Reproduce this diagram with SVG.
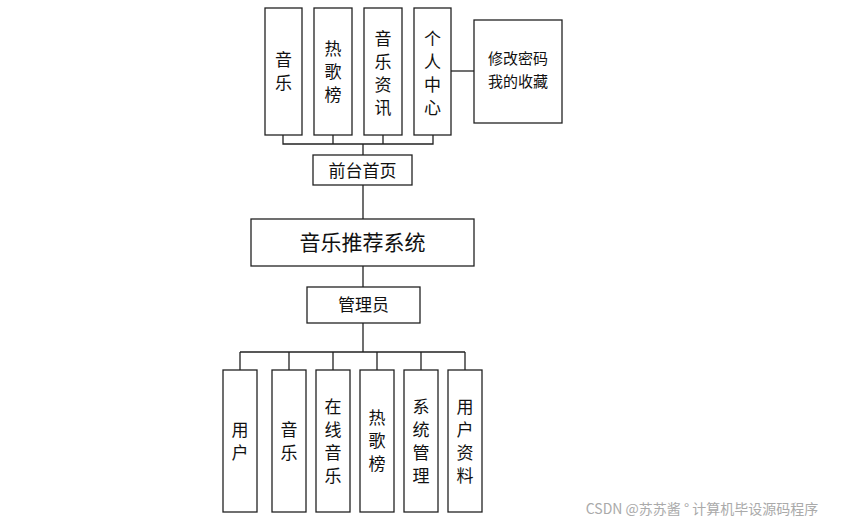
<svg xmlns="http://www.w3.org/2000/svg" width="846" height="524" viewBox="0 0 846 524">
<style>
rect{fill:#fff;stroke:#222;stroke-width:1.3}
text{font-family:"Noto Sans CJK SC","Liberation Sans",sans-serif;fill:#111;text-anchor:middle}
.v{font-size:17px}
.c path{fill:none;stroke:#222;stroke-width:1.3}
</style>
<rect x="0" y="0" width="846" height="524" style="stroke:none"/>
<g class="c">
<path d="M283 135V144H433V135M333 135V144M383 135V144M363 144V155"/>
<path d="M451 71H474"/>
<path d="M363 185V219M363 266V287M363 323V352M240 352H465M240 352V370M289 352V370M333 352V370M377 352V370M421 352V370M465 352V370"/>
</g>
<g id="n1"><rect x="265" y="8" width="37" height="127"/><text class="v" x="283.5" y="66">音</text><text class="v" x="283.5" y="89">乐</text></g>
<g id="n2"><rect x="314" y="8" width="38" height="127"/><text class="v" x="333" y="55">热</text><text class="v" x="333" y="78">歌</text><text class="v" x="333" y="101">榜</text></g>
<g id="n3"><rect x="364" y="8" width="38" height="127"/><text class="v" x="383" y="45">音</text><text class="v" x="383" y="68">乐</text><text class="v" x="383" y="91">资</text><text class="v" x="383" y="114">讯</text></g>
<g id="n4"><rect x="414" y="8" width="37" height="127"/><text class="v" x="432.5" y="45">个</text><text class="v" x="432.5" y="68">人</text><text class="v" x="432.5" y="91">中</text><text class="v" x="432.5" y="114">心</text></g>
<g id="n5"><rect x="474" y="20" width="88" height="103"/><text x="518" y="64" style="font-size:15px">修改密码</text><text x="518" y="87" style="font-size:15px">我的收藏</text></g>
<g id="n6"><rect x="313" y="155" width="99" height="30"/><text class="v" x="362.5" y="177">前台首页</text></g>
<g id="n7"><rect x="251" y="219" width="223" height="47"/><text x="362.5" y="250" style="font-size:21px">音乐推荐系统</text></g>
<g id="n8"><rect x="307" y="287" width="113" height="36"/><text class="v" x="363.5" y="311">管理员</text></g>
<g id="b1"><rect x="223" y="370" width="34" height="142"/><text class="v" x="240" y="436">用</text><text class="v" x="240" y="459">户</text></g>
<g id="b2"><rect x="272" y="370" width="34" height="142"/><text class="v" x="289" y="436">音</text><text class="v" x="289" y="459">乐</text></g>
<g id="b3"><rect x="316" y="370" width="34" height="142"/><text class="v" x="333" y="413">在</text><text class="v" x="333" y="436">线</text><text class="v" x="333" y="459">音</text><text class="v" x="333" y="482">乐</text></g>
<g id="b4"><rect x="360" y="370" width="34" height="142"/><text class="v" x="377" y="424">热</text><text class="v" x="377" y="447">歌</text><text class="v" x="377" y="470">榜</text></g>
<g id="b5"><rect x="404" y="370" width="34" height="142"/><text class="v" x="421" y="413">系</text><text class="v" x="421" y="436">统</text><text class="v" x="421" y="459">管</text><text class="v" x="421" y="482">理</text></g>
<g id="b6"><rect x="448" y="370" width="34" height="142"/><text class="v" x="465" y="413">用</text><text class="v" x="465" y="436">户</text><text class="v" x="465" y="459">资</text><text class="v" x="465" y="482">料</text></g>
<text x="702" y="514" style="font-size:14px;fill:#aaa">CSDN @苏苏酱 ° 计算机毕设源码程序</text>
</svg>
